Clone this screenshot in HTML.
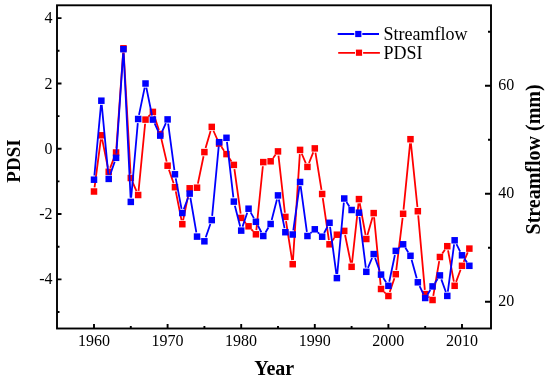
<!DOCTYPE html>
<html><head><meta charset="utf-8"><style>
html,body{margin:0;padding:0;background:#fff;}
body{width:550px;height:382px;overflow:hidden;}
svg{display:block;}
</style></head><body>
<svg width="550" height="382" viewBox="0 0 550 382">
<rect width="550" height="382" fill="#fff"/>
<path d="M94.55 187.34L100.81 139.46M102.19 139.42L107.89 167.68M110.22 167.88L114.58 156.42M116.38 148.31L123.14 52.49M123.68 52.49L130.56 173.81M132.47 181.85L136.49 191.15M138.57 190.82L145.11 123.78M148.42 116.56L149.98 114.94M154.21 115.88L158.91 130.02M161.19 138.09L166.65 161.61M168.96 169.67L173.60 183.23M175.78 191.32L181.50 220.08M183.16 220.09L188.84 192.41M197.89 183.59L203.55 156.21M205.58 148.07L210.58 130.93M213.45 130.74L217.43 139.76M221.53 147.04L224.07 150.66M228.85 157.57L231.47 161.43M234.42 169.06L240.62 213.74M243.97 221.06L245.79 223.14M251.40 229.39L253.08 231.21M256.35 230.12L262.85 166.28M273.15 157.93L275.49 154.77M278.47 155.57L284.89 212.73M286.01 221.05L292.07 260.05M292.99 260.01L299.81 154.09M301.75 153.75L305.77 163.05M308.99 163.00L313.25 152.30M315.47 152.55L321.49 189.85M322.77 198.16L328.91 240.14M332.08 240.97L334.32 238.03M345.08 235.01L350.76 262.69M352.05 262.62L358.51 203.28M359.72 203.23L365.56 234.87M367.47 234.96L372.53 217.14M374.09 217.28L380.63 284.82M384.08 291.89L385.36 293.11M389.74 292.02L394.42 278.18M396.27 270.03L402.61 217.97M403.53 209.62L410.07 143.38M410.91 143.38L417.41 207.02M418.21 215.38L424.83 289.92M428.48 296.73L429.28 297.37M433.27 295.86L439.21 261.14M442.29 253.53L444.91 249.67M448.05 250.33L453.87 281.67M456.09 281.86L460.55 269.74M463.65 261.94L467.71 252.46" stroke="#ff0000" stroke-width="1.8" fill="none"/>
<g fill="#ff0000"><rect x="90.75" y="188.25" width="6.5" height="6.5"/><rect x="98.11" y="132.05" width="6.5" height="6.5"/><rect x="105.47" y="168.55" width="6.5" height="6.5"/><rect x="112.83" y="149.25" width="6.5" height="6.5"/><rect x="120.19" y="45.05" width="6.5" height="6.5"/><rect x="127.55" y="174.75" width="6.5" height="6.5"/><rect x="134.91" y="191.75" width="6.5" height="6.5"/><rect x="142.27" y="116.35" width="6.5" height="6.5"/><rect x="149.63" y="108.65" width="6.5" height="6.5"/><rect x="156.99" y="130.75" width="6.5" height="6.5"/><rect x="164.35" y="162.45" width="6.5" height="6.5"/><rect x="171.71" y="183.95" width="6.5" height="6.5"/><rect x="179.07" y="220.95" width="6.5" height="6.5"/><rect x="186.43" y="185.05" width="6.5" height="6.5"/><rect x="193.79" y="184.45" width="6.5" height="6.5"/><rect x="201.15" y="148.85" width="6.5" height="6.5"/><rect x="208.51" y="123.65" width="6.5" height="6.5"/><rect x="215.87" y="140.35" width="6.5" height="6.5"/><rect x="223.23" y="150.85" width="6.5" height="6.5"/><rect x="230.59" y="161.65" width="6.5" height="6.5"/><rect x="237.95" y="214.65" width="6.5" height="6.5"/><rect x="245.31" y="223.05" width="6.5" height="6.5"/><rect x="252.67" y="231.05" width="6.5" height="6.5"/><rect x="260.03" y="158.85" width="6.5" height="6.5"/><rect x="267.39" y="158.05" width="6.5" height="6.5"/><rect x="274.75" y="148.15" width="6.5" height="6.5"/><rect x="282.11" y="213.65" width="6.5" height="6.5"/><rect x="289.47" y="260.95" width="6.5" height="6.5"/><rect x="296.83" y="146.65" width="6.5" height="6.5"/><rect x="304.19" y="163.65" width="6.5" height="6.5"/><rect x="311.55" y="145.15" width="6.5" height="6.5"/><rect x="318.91" y="190.75" width="6.5" height="6.5"/><rect x="326.27" y="241.05" width="6.5" height="6.5"/><rect x="333.63" y="231.45" width="6.5" height="6.5"/><rect x="340.99" y="227.65" width="6.5" height="6.5"/><rect x="348.35" y="263.55" width="6.5" height="6.5"/><rect x="355.71" y="195.85" width="6.5" height="6.5"/><rect x="363.07" y="235.75" width="6.5" height="6.5"/><rect x="370.43" y="209.85" width="6.5" height="6.5"/><rect x="377.79" y="285.75" width="6.5" height="6.5"/><rect x="385.15" y="292.75" width="6.5" height="6.5"/><rect x="392.51" y="270.95" width="6.5" height="6.5"/><rect x="399.87" y="210.55" width="6.5" height="6.5"/><rect x="407.23" y="135.95" width="6.5" height="6.5"/><rect x="414.59" y="207.95" width="6.5" height="6.5"/><rect x="421.95" y="290.85" width="6.5" height="6.5"/><rect x="429.31" y="296.75" width="6.5" height="6.5"/><rect x="436.67" y="253.75" width="6.5" height="6.5"/><rect x="444.03" y="242.95" width="6.5" height="6.5"/><rect x="451.39" y="282.55" width="6.5" height="6.5"/><rect x="458.75" y="262.55" width="6.5" height="6.5"/><rect x="466.11" y="245.35" width="6.5" height="6.5"/></g>
<path d="M94.39 175.52L100.97 104.88M101.75 104.88L108.33 174.72M110.10 174.93L114.70 161.77M116.36 153.61L123.16 53.39M123.64 53.40L130.60 197.70M131.17 197.72L137.79 123.18M139.01 114.89L144.67 87.61M146.36 87.62L152.04 115.48M154.64 123.42L158.48 131.78M161.98 131.78L165.86 123.22M168.16 123.56L174.40 170.14M175.74 178.43L181.54 208.87M183.81 209.07L188.19 197.53M190.39 197.74L196.33 232.46M200.58 238.86L200.86 239.04M205.78 237.33L210.38 224.07M212.16 215.92L218.72 146.38M222.72 140.04L222.88 139.96M226.96 141.97L233.36 197.43M234.87 205.67L240.17 226.53M242.54 226.62L247.22 212.68M250.62 212.36L253.86 218.14M257.85 225.53L261.35 232.27M265.48 232.42L268.44 227.58M271.69 219.93L276.95 199.47M278.82 199.52L284.54 228.08M293.30 230.34L299.50 186.16M300.65 186.16L306.87 231.84M310.55 233.17L311.69 232.13M317.76 232.28L319.20 233.72M324.13 232.99L327.55 226.51M330.07 226.96L336.33 273.94M337.27 273.92L343.85 202.68M346.50 202.04L349.34 206.46M359.48 216.87L365.80 267.63M367.93 267.92L372.07 257.98M375.10 258.05L379.62 270.65M383.35 278.11L386.09 282.29M389.27 281.69L394.89 255.01M398.89 248.10L399.99 247.10M405.38 247.84L408.22 252.26M411.60 259.85L416.72 278.25M419.62 286.10L423.42 294.20M427.45 294.45L430.31 289.95M434.90 282.91L437.58 278.89M441.34 279.35L445.86 291.95M447.83 291.74L454.09 244.46M456.49 244.07L460.15 251.53M464.41 258.74L466.95 262.36" stroke="#0000ff" stroke-width="1.8" fill="none"/>
<g fill="#0000ff"><rect x="90.75" y="176.45" width="6.5" height="6.5"/><rect x="98.11" y="97.45" width="6.5" height="6.5"/><rect x="105.47" y="175.65" width="6.5" height="6.5"/><rect x="112.83" y="154.55" width="6.5" height="6.5"/><rect x="120.19" y="45.95" width="6.5" height="6.5"/><rect x="127.55" y="198.65" width="6.5" height="6.5"/><rect x="134.91" y="115.75" width="6.5" height="6.5"/><rect x="142.27" y="80.25" width="6.5" height="6.5"/><rect x="149.63" y="116.35" width="6.5" height="6.5"/><rect x="156.99" y="132.35" width="6.5" height="6.5"/><rect x="164.35" y="116.15" width="6.5" height="6.5"/><rect x="171.71" y="171.05" width="6.5" height="6.5"/><rect x="179.07" y="209.75" width="6.5" height="6.5"/><rect x="186.43" y="190.35" width="6.5" height="6.5"/><rect x="193.79" y="233.35" width="6.5" height="6.5"/><rect x="201.15" y="238.05" width="6.5" height="6.5"/><rect x="208.51" y="216.85" width="6.5" height="6.5"/><rect x="215.87" y="138.95" width="6.5" height="6.5"/><rect x="223.23" y="134.55" width="6.5" height="6.5"/><rect x="230.59" y="198.35" width="6.5" height="6.5"/><rect x="237.95" y="227.35" width="6.5" height="6.5"/><rect x="245.31" y="205.45" width="6.5" height="6.5"/><rect x="252.67" y="218.55" width="6.5" height="6.5"/><rect x="260.03" y="232.75" width="6.5" height="6.5"/><rect x="267.39" y="220.75" width="6.5" height="6.5"/><rect x="274.75" y="192.15" width="6.5" height="6.5"/><rect x="282.11" y="228.95" width="6.5" height="6.5"/><rect x="289.47" y="231.25" width="6.5" height="6.5"/><rect x="296.83" y="178.75" width="6.5" height="6.5"/><rect x="304.19" y="232.75" width="6.5" height="6.5"/><rect x="311.55" y="226.05" width="6.5" height="6.5"/><rect x="318.91" y="233.45" width="6.5" height="6.5"/><rect x="326.27" y="219.55" width="6.5" height="6.5"/><rect x="333.63" y="274.85" width="6.5" height="6.5"/><rect x="340.99" y="195.25" width="6.5" height="6.5"/><rect x="348.35" y="206.75" width="6.5" height="6.5"/><rect x="355.71" y="209.45" width="6.5" height="6.5"/><rect x="363.07" y="268.55" width="6.5" height="6.5"/><rect x="370.43" y="250.85" width="6.5" height="6.5"/><rect x="377.79" y="271.35" width="6.5" height="6.5"/><rect x="385.15" y="282.55" width="6.5" height="6.5"/><rect x="392.51" y="247.65" width="6.5" height="6.5"/><rect x="399.87" y="241.05" width="6.5" height="6.5"/><rect x="407.23" y="252.55" width="6.5" height="6.5"/><rect x="414.59" y="279.05" width="6.5" height="6.5"/><rect x="421.95" y="294.75" width="6.5" height="6.5"/><rect x="429.31" y="283.15" width="6.5" height="6.5"/><rect x="436.67" y="272.15" width="6.5" height="6.5"/><rect x="444.03" y="292.65" width="6.5" height="6.5"/><rect x="451.39" y="237.05" width="6.5" height="6.5"/><rect x="458.75" y="252.05" width="6.5" height="6.5"/><rect x="466.11" y="262.55" width="6.5" height="6.5"/></g>
<rect x="57.0" y="5.3" width="434.0" height="323.2" fill="none" stroke="#000" stroke-width="1.9"/>
<path d="M57.0 311.97h2.5M57.0 279.33h4.5M57.0 246.68h2.5M57.0 214.04h4.5M57.0 181.39h2.5M57.0 148.75h4.5M57.0 116.11h2.5M57.0 83.46h4.5M57.0 50.82h2.5M57.0 18.17h4.5M491.0 301.68h-6M491.0 247.71h-3M491.0 193.73h-6M491.0 139.76h-3M491.0 85.79h-6M491.0 31.81h-3M94.00 328.5v-4.5M130.80 328.5v-2.5M167.60 328.5v-4.5M204.40 328.5v-2.5M241.20 328.5v-4.5M278.00 328.5v-2.5M314.80 328.5v-4.5M351.60 328.5v-2.5M388.40 328.5v-4.5M425.20 328.5v-2.5M462.00 328.5v-4.5" stroke="#000" stroke-width="1.9" fill="none"/>
<g font-family="Liberation Serif, serif" font-size="16" fill="#000">
<text x="52.6" y="23.2" text-anchor="end">4</text>
<text x="52.6" y="88.5" text-anchor="end">2</text>
<text x="52.6" y="153.8" text-anchor="end">0</text>
<text x="52.6" y="219.0" text-anchor="end">-2</text>
<text x="52.6" y="284.3" text-anchor="end">-4</text>
<text x="498.2" y="306.0">20</text>
<text x="498.2" y="198.0">40</text>
<text x="498.2" y="90.1">60</text>
<text x="93.9" y="345.7" text-anchor="middle">1960</text>
<text x="167.5" y="345.7" text-anchor="middle">1970</text>
<text x="241.1" y="345.7" text-anchor="middle">1980</text>
<text x="314.7" y="345.7" text-anchor="middle">1990</text>
<text x="388.3" y="345.7" text-anchor="middle">2000</text>
<text x="461.9" y="345.7" text-anchor="middle">2010</text>
</g>
<g font-family="Liberation Serif, serif" font-weight="bold" fill="#000">
<text font-size="19" transform="translate(20.2 161) rotate(-90)" text-anchor="middle">PDSI</text>
<text font-size="20" transform="translate(540 159.4) rotate(-90)" text-anchor="middle">Streamflow (mm)</text>
<text font-size="20" x="274.2" y="375" text-anchor="middle">Year</text>
</g>
<g>
<path d="M337.7 34h16.6M362.3 34h16.7" stroke="#0000ff" stroke-width="1.8"/>
<rect x="355.2" y="30.9" width="6.2" height="6.2" fill="#0000ff"/>
<path d="M338.2 52.9h16.8M363.1 52.9h16.8" stroke="#ff0000" stroke-width="1.8"/>
<rect x="355.9" y="49.6" width="6.2" height="6.2" fill="#ff0000"/>
<g font-family="Liberation Serif, serif" font-size="18" fill="#000">
<text x="383.6" y="40.4">Streamflow</text>
<text x="383.6" y="59">PDSI</text>
</g>
</g>
</svg>
</body></html>
